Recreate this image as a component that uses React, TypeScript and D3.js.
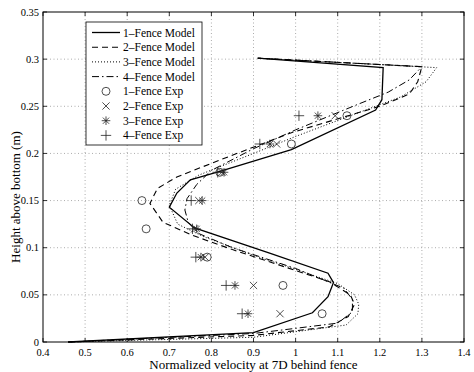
import React, { useRef, useEffect } from 'react';
import { select, scaleLinear, line } from 'd3';

// axis ticks
const xTicks = [0.4, 0.5, 0.6, 0.7, 0.8, 0.9, 1.0, 1.1, 1.2, 1.3, 1.4];
const xTickLabels = ['0.4', '0.5', '0.6', '0.7', '0.8', '0.9', '1', '1.1', '1.2', '1.3', '1.4'];
const yTicks = [0, 0.05, 0.1, 0.15, 0.2, 0.25, 0.3, 0.35];
const yTickLabels = ['0', '0.05', '0.1', '0.15', '0.2', '0.25', '0.3', '0.35'];

// model profiles: [velocity, height]
const model1 = [
  [0.46, 0], [0.9, 0.01], [1.04, 0.031], [1.077, 0.048], [1.09, 0.063], [1.077, 0.073],
  [0.94, 0.094], [0.76, 0.121], [0.7, 0.143], [0.718, 0.158], [0.75, 0.172], [0.82, 0.181],
  [0.99, 0.204], [1.19, 0.246], [1.205, 0.257], [1.208, 0.291], [0.91, 0.301],
];
const model2 = [
  [0.46, 0], [0.9, 0.007], [1.08, 0.016], [1.125, 0.027], [1.14, 0.04], [1.13, 0.05],
  [1.08, 0.064], [0.85, 0.098], [0.756, 0.113], [0.685, 0.127], [0.654, 0.147], [0.672, 0.163],
  [0.718, 0.175], [0.82, 0.193], [0.99, 0.222], [1.2, 0.25], [1.27, 0.263], [1.29, 0.276],
  [1.3, 0.292], [0.91, 0.301],
];
const model3 = [
  [0.46, 0], [0.9, 0.005], [1.12, 0.018], [1.148, 0.03], [1.15, 0.04], [1.14, 0.05],
  [1.1, 0.062], [0.9, 0.092], [0.78, 0.112], [0.72, 0.125], [0.7, 0.145], [0.715, 0.162],
  [0.77, 0.177], [0.9, 0.2], [1.0, 0.218], [1.13, 0.24], [1.25, 0.26], [1.31, 0.276],
  [1.335, 0.291], [0.91, 0.301],
];
const model4 = [
  [0.46, 0], [0.9, 0.009], [1.1, 0.02], [1.135, 0.032], [1.135, 0.045], [1.115, 0.057],
  [1.0, 0.078], [0.85, 0.1], [0.77, 0.115], [0.745, 0.127], [0.737, 0.14], [0.742, 0.152],
  [0.765, 0.167], [0.8, 0.182], [0.9, 0.205], [1.0, 0.225], [1.153, 0.253], [1.22, 0.265],
  [1.27, 0.278], [1.3, 0.292], [0.91, 0.301],
];

// experiments
const expHeights = [0.03, 0.06, 0.09, 0.12, 0.15, 0.18, 0.21, 0.24];
const exp1 = [1.063, 0.97, 0.79, 0.645, 0.635, 0.82, 0.99, 1.122];
const exp2 = [0.963, 0.9, 0.785, 0.76, 0.77, 0.825, 0.955, 1.094];
const exp3 = [0.887, 0.856, 0.775, 0.765, 0.778, 0.83, 0.939, 1.053];
const exp4 = [0.873, 0.835, 0.763, 0.755, 0.752, 0.815, 0.915, 1.008];

const legendLabels = [
  '1–Fence Model', '2–Fence Model', '3–Fence Model', '4–Fence Model',
  '1–Fence Exp', '2–Fence Exp', '3–Fence Exp', '4–Fence Exp',
];

const font = '"Liberation Serif", "Times New Roman", serif';

function drawMarker(g, kind, cx, cy) {
  const s = '#222';
  if (kind === 'o') {
    g.append('circle').attr('cx', cx).attr('cy', cy).attr('r', 4)
      .attr('fill', 'none').attr('stroke', s).attr('stroke-width', 0.8);
  } else if (kind === 'x') {
    const d = 3.6;
    g.append('path').attr('d', `M${cx - d},${cy - d}L${cx + d},${cy + d}M${cx - d},${cy + d}L${cx + d},${cy - d}`)
      .attr('stroke', s).attr('stroke-width', 0.8);
  } else if (kind === '*') {
    const d = 4.3, e = 3.1;
    g.append('path').attr('d', `M${cx - d},${cy}L${cx + d},${cy}M${cx},${cy - d}L${cx},${cy + d}M${cx - e},${cy - e}L${cx + e},${cy + e}M${cx - e},${cy + e}L${cx + e},${cy - e}`)
      .attr('stroke', s).attr('stroke-width', 0.8);
  } else {
    const d = 5.2;
    g.append('path').attr('d', `M${cx - d},${cy}L${cx + d},${cy}M${cx},${cy - d}L${cx},${cy + d}`)
      .attr('stroke', s).attr('stroke-width', 0.8);
  }
}

function FenceChart() {
  const svgRef = useRef(null);

  useEffect(() => {
    const svg = select(svgRef.current);
    svg.selectAll('*').remove();

    const left = 43, right = 464, top = 12, bottom = 342;
    const x = scaleLinear().domain([0.4, 1.4]).range([left, right]);
    const y = scaleLinear().domain([0, 0.35]).range([bottom, top]);

    svg.append('rect').attr('width', 474).attr('height', 372).attr('fill', '#fff');

    // grid
    const grid = svg.append('g').attr('stroke', '#888').attr('stroke-width', 0.7)
      .attr('stroke-dasharray', '1,2.5');
    xTicks.slice(1, -1).forEach((t) => {
      grid.append('line').attr('x1', x(t)).attr('x2', x(t)).attr('y1', top).attr('y2', bottom);
    });
    yTicks.slice(1, -1).forEach((t) => {
      grid.append('line').attr('x1', left).attr('x2', right).attr('y1', y(t)).attr('y2', y(t));
    });

    // ticks, inside on all sides
    const ticks = svg.append('g').attr('stroke', '#000').attr('stroke-width', 0.8);
    xTicks.forEach((t) => {
      ticks.append('line').attr('x1', x(t)).attr('x2', x(t)).attr('y1', bottom).attr('y2', bottom - 4);
      ticks.append('line').attr('x1', x(t)).attr('x2', x(t)).attr('y1', top).attr('y2', top + 4);
    });
    yTicks.forEach((t) => {
      ticks.append('line').attr('x1', left).attr('x2', left + 4).attr('y1', y(t)).attr('y2', y(t));
      ticks.append('line').attr('x1', right).attr('x2', right - 4).attr('y1', y(t)).attr('y2', y(t));
    });

    svg.append('g').selectAll('text').data(xTicks).join('text')
      .attr('x', (d) => x(d)).attr('y', 355.5)
      .attr('text-anchor', 'middle').attr('font-family', font).attr('font-size', 10.5)
      .text((d, i) => xTickLabels[i]);
    svg.append('g').selectAll('text').data(yTicks).join('text')
      .attr('x', 39).attr('y', (d) => y(d) + 3.5)
      .attr('text-anchor', 'end').attr('font-family', font).attr('font-size', 10.5)
      .text((d, i) => yTickLabels[i]);

    // model curves
    const lineGen = line().x((d) => x(d[0])).y((d) => y(d[1]));
    const models = [
      { data: model1, dash: null, width: 1.3 },
      { data: model2, dash: '6,4', width: 1.1 },
      { data: model3, dash: '1,2', width: 1 },
      { data: model4, dash: '7,3,1.5,3', width: 1 },
    ];
    models.forEach((m) => {
      svg.append('path').attr('d', lineGen(m.data)).attr('fill', 'none')
        .attr('stroke', '#000').attr('stroke-width', m.width)
        .attr('stroke-dasharray', m.dash);
    });

    // experiment markers
    const exps = [
      { vals: exp1, kind: 'o' },
      { vals: exp2, kind: 'x' },
      { vals: exp3, kind: '*' },
      { vals: exp4, kind: '+' },
    ];
    const mg = svg.append('g');
    exps.forEach((e) => {
      e.vals.forEach((v, i) => drawMarker(mg, e.kind, x(v), y(expHeights[i])));
    });

    // frame
    svg.append('rect').attr('x', left).attr('y', top).attr('width', right - left)
      .attr('height', bottom - top).attr('fill', 'none').attr('stroke', '#000').attr('stroke-width', 1);

    // legend
    const lg = svg.append('g');
    lg.append('rect').attr('x', 86).attr('y', 22).attr('width', 116).attr('height', 123)
      .attr('fill', '#fff').attr('stroke', '#000').attr('stroke-width', 0.8);
    legendLabels.forEach((label, i) => {
      const ly = 32.5 + i * 14.7;
      if (i < 4) {
        lg.append('line').attr('x1', 92).attr('x2', 120).attr('y1', ly).attr('y2', ly)
          .attr('stroke', '#000').attr('stroke-width', models[i].width)
          .attr('stroke-dasharray', models[i].dash);
      } else {
        drawMarker(lg, exps[i - 4].kind, 106, ly);
      }
      lg.append('text').attr('x', 123).attr('y', ly + 4)
        .attr('font-family', font).attr('font-size', 11.5).text(label);
    });

    // axis titles
    svg.append('text').attr('x', (left + right) / 2).attr('y', 369)
      .attr('text-anchor', 'middle').attr('font-family', font).attr('font-size', 13)
      .text('Normalized velocity at 7D behind fence');
    svg.append('text').attr('transform', 'translate(20,197) rotate(-90)')
      .attr('text-anchor', 'middle').attr('font-family', font).attr('font-size', 13)
      .text('Height above bottom (m)');
  }, []);

  return <svg ref={svgRef} width={474} height={372} style={{ position: 'absolute', left: 0, top: 0 }}></svg>;
}

export default function App() {
  return <FenceChart />;
}
